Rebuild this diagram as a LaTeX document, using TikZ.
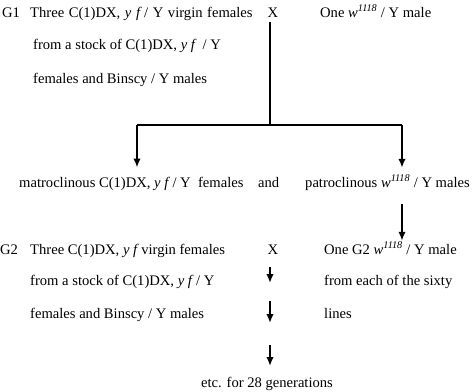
\documentclass[tikz,border=0pt]{standalone}
\usepackage{fontspec}
\setmainfont{Liberation Serif}
\usetikzlibrary{arrows.meta}
\newcommand{\wgene}{\textit{w}\textsuperscript{\textit{1118}}}
\newcommand{\yf}{\textit{y f}}

\begin{document}
\begin{tikzpicture}[x=1pt, y=-1pt,
    lbl/.style={anchor=base west, inner sep=0pt, font=\fontsize{14.6}{17}\selectfont},
    cross/.style={anchor=base, inner sep=0pt, font=\fontsize{14.6}{17}\selectfont},
    line/.style={line width=2.2pt},
    arr/.style={line width=2.2pt, -{Latex[length=9pt,width=7.5pt]}}
]
    \useasboundingbox (0,0) rectangle (474,391);

    % Generation 1
    \node[lbl] (g1) at (2,17) {G1};
    \node[lbl] (f1a) at (30,17) {\spaceskip=4.6pt Three C(1)DX, \yf\,/ Y virgin females};
    \node[lbl] (f1b) at (33,49) {from a stock of C(1)DX, \yf\ \,/ Y};
    \node[lbl] (f1c) at (33,83) {females and Binscy / Y males};
    \node[cross] (x1) at (273,17) {X};
    \node[lbl] (m1) at (320,17) {One \wgene\ / Y male};

    % Offspring
    \node[lbl] (mat) at (19,187) {matroclinous C(1)DX, \yf\,/ Y \ females};
    \node[lbl] (and) at (258,187) {and};
    \node[lbl] (pat) at (305,187) {patroclinous \wgene\ / Y males};

    % Generation 2
    \node[lbl] (g2) at (0,254) {G2};
    \node[lbl] (f2a) at (30,254) {Three C(1)DX, \yf\,virgin females};
    \node[lbl] (f2b) at (30,285) {from a stock of C(1)DX, \yf\,/ Y};
    \node[lbl] (f2c) at (30,318) {females and Binscy / Y males};
    \node[cross] (x2) at (273,254) {X};
    \node[lbl] (m2a) at (324,254) {One G2 \wgene\ / Y male};
    \node[lbl] (m2b) at (324,285) {from each of the sixty};
    \node[lbl] (m2c) at (324,318) {lines};
    \node[cross] (etc) at (267,387) {etc. for 28 generations};

    % Cross lines
    \coordinate (split) at (270,125);
    \coordinate (splitL) at (137,125);
    \coordinate (splitR) at (402,125);
    \draw[line, shorten <=5pt] (x1.south -| split) -- (split);
    \draw[line] (splitL) -- (splitR);
    \draw[arr, shorten >=9pt] (splitL) -- (splitL |- mat.north);
    \draw[arr, shorten >=7pt] (splitR) -- (splitR |- pat.north);
    \draw[arr, shorten <=14pt, shorten >=1pt] (splitR |- pat.south) -- (splitR |- m2a.north);

    % Generation arrows
    \coordinate (d1s) at (270,267);
    \coordinate (d1e) at (270,283);
    \coordinate (d2s) at (270,301);
    \coordinate (d2e) at (270,323);
    \coordinate (d3s) at (270,345);
    \coordinate (d3e) at (270,366);
    \draw[arr] (d1s) -- (d1e);
    \draw[arr] (d2s) -- (d2e);
    \draw[arr] (d3s) -- (d3e);
\end{tikzpicture}
\end{document}
